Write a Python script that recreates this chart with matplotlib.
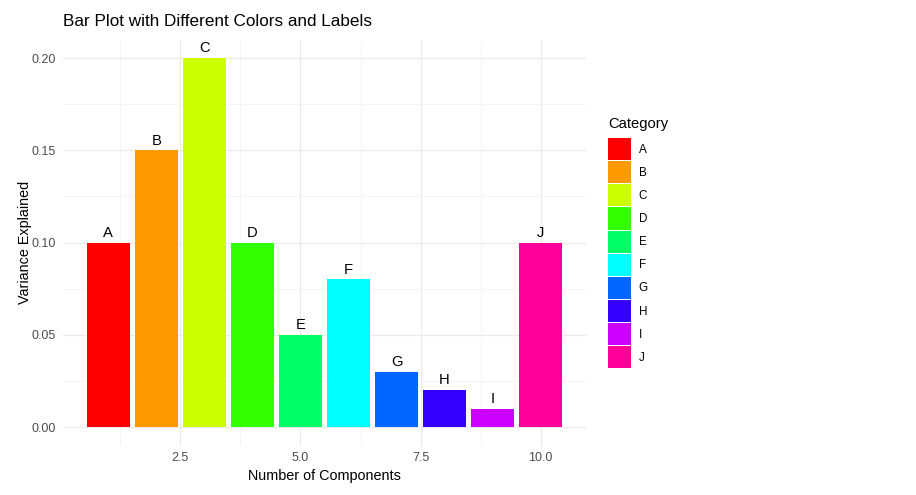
import matplotlib
matplotlib.use('Agg')
import matplotlib.pyplot as plt
from matplotlib.patches import Patch
import numpy as np

plt.rcParams['font.family'] = ['Liberation Sans', 'DejaVu Sans']

# ── Données ────────────────────────────────────────────────────────────────
components = [1, 2, 3, 4, 5, 6, 7, 8, 9, 10]
variance = [0.10, 0.15, 0.20, 0.10, 0.05, 0.08, 0.03, 0.02, 0.01, 0.10]
categories = ['A', 'B', 'C', 'D', 'E', 'F', 'G', 'H', 'I', 'J']
colors = ['#FF0000', '#FF9900', '#CCFF00', '#33FF00', '#00FF66',
          '#00FFFF', '#0066FF', '#3300FF', '#CC00FF', '#FF0099']

fig = plt.figure(figsize=(9.16, 4.95), dpi=100)
ax = fig.add_axes([0.0688, 0.100, 0.5709, 0.820])

ax.bar(components, variance, width=0.9, color=colors, zorder=3)
for x, v, c in zip(components, variance, categories):
    ax.annotate(c, (x, v), xytext=(0, 2), textcoords='offset points',
                ha='center', va='bottom', fontsize=10.6, color='black', zorder=4)

ax.set_xlim(0.055, 10.945)
ax.set_ylim(-0.01, 0.21)
ax.set_xticks([2.5, 5.0, 7.5, 10.0])
ax.set_xticklabels(['2.5', '5.0', '7.5', '10.0'])
ax.set_yticks([0.0, 0.05, 0.10, 0.15, 0.20])
ax.set_yticklabels(['0.00', '0.05', '0.10', '0.15', '0.20'])
ax.set_xticks([1.25, 3.75, 6.25, 8.75], minor=True)
ax.set_yticks([0.025, 0.075, 0.125, 0.175], minor=True)

# style theme_minimal
for s in ax.spines.values():
    s.set_visible(False)
ax.grid(True, which='major', color='#EBEBEB', lw=0.9, zorder=0)
ax.grid(True, which='minor', color='#F3F3F3', lw=0.6, zorder=0)
ax.tick_params(which='both', length=0, labelsize=9, labelcolor='#4D4D4D', pad=5)

ax.set_xlabel("Number of Components", fontsize=10.4, labelpad=3)
ax.set_ylabel("Variance Explained", fontsize=10.4, labelpad=0)
ax.set_title("Bar Plot with Different Colors and Labels", fontsize=12.3,
             loc='left', pad=10)

# légende : titre séparé pour régler l'écart titre / clés
fig.text(608 / 916, 1 - 124 / 495, 'Category', fontsize=10.6,
         ha='left', va='center')
handles = [Patch(facecolor=c, edgecolor='none') for c in colors]
leg = ax.legend(handles, categories, loc='upper left',
                bbox_to_anchor=(1.034, 0.769), frameon=False, fontsize=8.4,
                handlelength=1.9, handleheight=2.55,
                labelspacing=0.08, handletextpad=0.7, borderaxespad=0)

fig.savefig('out.png', dpi=100)
